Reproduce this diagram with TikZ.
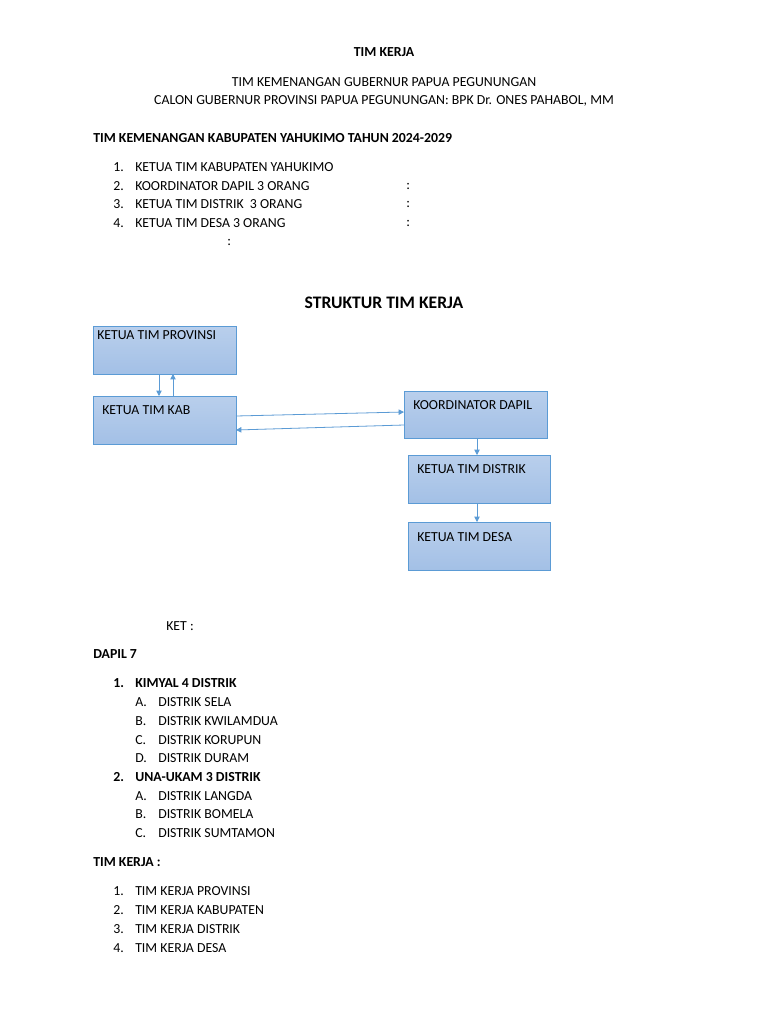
\documentclass[tikz,border=0pt]{standalone}
\usepackage{fontspec}
\setmainfont{Carlito}
\usetikzlibrary{arrows.meta}
\definecolor{bord}{HTML}{5B9BD5}
\definecolor{ftop}{HTML}{B9CFEC}
\definecolor{fbot}{HTML}{A3C0E6}
\tikzset{
  t/.style={anchor=west,inner sep=0pt,font=\fontsize{10.35}{12}\selectfont},
  tb/.style={t,font=\fontsize{10.35}{12}\selectfont\bfseries},
  tc/.style={anchor=center,inner sep=0pt,font=\fontsize{10.35}{12}\selectfont},
  boxs/.style={draw=bord,line width=0.7pt,top color=ftop,bottom color=fbot},
  arr/.style={draw=bord,line width=0.6pt,-{Triangle[length=4pt,width=4pt]}}
}
\begin{document}
\begin{tikzpicture}[x=0.75pt,y=-0.75pt]
\useasboundingbox (0,0) rectangle (768,1024);
\fill[white] (0,0) rectangle (768,1024);
\node[tc,font=\fontsize{10.35}{12}\selectfont\bfseries] (h1) at (384,52) {TIM KERJA};
\node[tc] (h2) at (384,82) {TIM KEMENANGAN GUBERNUR PAPUA PEGUNUNGAN};
\node[tc] (h3) at (384,101) {CALON GUBERNUR PROVINSI PAPUA PEGUNUNGAN: BPK Dr. ONES PAHABOL, MM};
\node[tb] (h4) at (93,138) {TIM KEMENANGAN KABUPATEN YAHUKIMO TAHUN 2024-2029};
\foreach \n/\y/\s in {1/167/KETUA TIM KABUPATEN YAHUKIMO,2/186/KOORDINATOR DAPIL 3 ORANG,3/204/KETUA TIM DISTRIK\ \ 3 ORANG,4/223/KETUA TIM DESA 3 ORANG}{
  \node[t] (ln\n) at (113,\y) {\n.};
  \node[t] (lt\n) at (135,\y) {\s};
}
\foreach \n/\y in {2/186,3/204,4/223}{\node[t] (lc\n) at (406,\y) {:};}
\node[t] (lc5) at (227,242) {:};
\node[tc,font=\fontsize{13.2}{15}\selectfont\bfseries] (st) at (384,303) {STRUKTUR TIM KERJA};
% boxes
\draw[boxs] (93,326) rectangle (236,374);
\draw[boxs] (93,396) rectangle (236,444);
\draw[boxs] (404,391) rectangle (547,438);
\draw[boxs] (408,455) rectangle (550,503);
\draw[boxs] (408,522) rectangle (550,570);
\node[t] (bp) at (97,335) {KETUA TIM PROVINSI};
\node[t] (bk) at (102,410) {KETUA TIM KAB};
\node[t] (bd) at (413,405) {KOORDINATOR DAPIL};
\node[t] (bs) at (417,469) {KETUA TIM DISTRIK};
\node[t] (be) at (417,537) {KETUA TIM DESA};
\coordinate (p1) at (159,374); \coordinate (k1) at (159,396);
\coordinate (p2) at (173,374); \coordinate (k2) at (173,396);
\coordinate (k3) at (236,416); \coordinate (d3) at (404,412);
\coordinate (d4) at (404,425); \coordinate (k4) at (236,430);
\coordinate (d5) at (477,438); \coordinate (s5) at (477,455);
\coordinate (s6) at (477,503); \coordinate (e6) at (477,522);
\draw[arr] (p1) -- (k1);
\draw[arr] (k2) -- (p2);
\draw[arr] (k3) -- (d3);
\draw[arr] (d4) -- (k4);
\draw[arr] (d5) -- (s5);
\draw[arr] (s6) -- (e6);
% KET
\node[t] (ket) at (166,626) {KET :};
\node[tb] (dp) at (93,654) {DAPIL 7};
\node[tb] (k1n) at (113,683) {1.};
\node[tb] (k1t) at (135,683) {KIMYAL 4 DISTRIK};
\foreach \l/\y/\s in {A/702/DISTRIK SELA,B/721/DISTRIK KWILAMDUA,C/740/DISTRIK KORUPUN,D/758/DISTRIK DURAM}{
  \node[t] (a\l) at (135,\y) {\l.};
  \node[t] (at\l) at (158,\y) {\s};
}
\node[tb] (k2n) at (113,777) {2.};
\node[tb] (k2t) at (135,777) {UNA-UKAM 3 DISTRIK};
\foreach \l/\y/\s in {A/796/DISTRIK LANGDA,B/814/DISTRIK BOMELA,C/833/DISTRIK SUMTAMON}{
  \node[t] (b\l) at (135,\y) {\l.};
  \node[t] (bt\l) at (158,\y) {\s};
}
\node[tb] (tk) at (93,862) {TIM KERJA :};
\foreach \n/\y/\s in {1/891/TIM KERJA PROVINSI,2/910/TIM KERJA KABUPATEN,3/929/TIM KERJA DISTRIK,4/948/TIM KERJA DESA}{
  \node[t] (mn\n) at (113,\y) {\n.};
  \node[t] (mt\n) at (135,\y) {\s};
}
\end{tikzpicture}
\end{document}
